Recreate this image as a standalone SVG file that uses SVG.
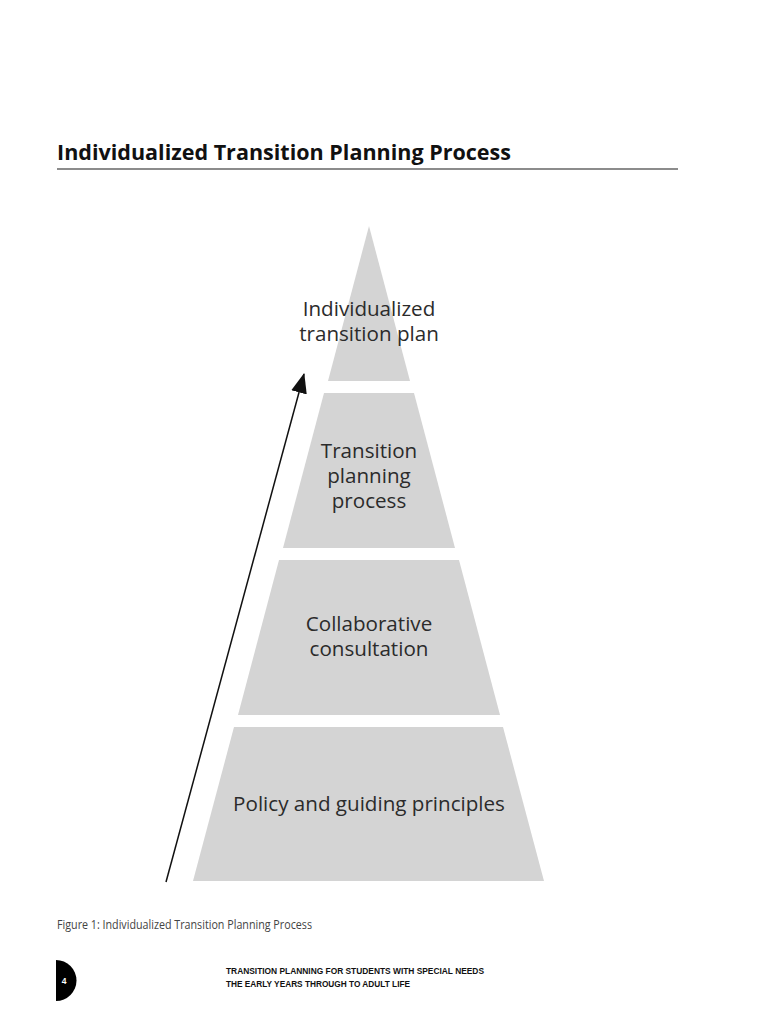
<svg xmlns="http://www.w3.org/2000/svg" width="768" height="1024" viewBox="0 0 768 1024">
<defs>
<style>
.band{fill:#d4d4d4;stroke:none}
.lbl{font-family:"Open Sans","Noto Sans",sans-serif;font-size:20.6px;fill:#2b2b2b;text-anchor:middle}
.title{font-family:"Open Sans","Noto Sans",sans-serif;font-size:20.5px;font-weight:bold;fill:#111}
.cap{font-family:"Open Sans","Noto Sans",sans-serif;font-size:12.5px;fill:#444}
.foot{font-family:"Liberation Sans",Arial,sans-serif;font-size:8.8px;font-weight:bold;fill:#111}
</style>
<marker id="ah" viewBox="0 0 20 16" refX="19" refY="8" markerWidth="20" markerHeight="16" markerUnits="userSpaceOnUse" orient="auto">
<path d="M0,0 L20,8 L0,16 Z" fill="#111"/>
</marker>
</defs>
<rect width="768" height="1024" fill="#fff"/>
<text class="title" x="57" y="160" textLength="454" lengthAdjust="spacingAndGlyphs">Individualized Transition Planning Process</text>
<line x1="57" y1="169" x2="678" y2="169" stroke="#666" stroke-width="1.5"/>

<g id="node-plan">
<polygon class="band" points="369,226 410,381 328,381"/>
<text class="lbl" x="369" y="316">Individualized</text>
<text class="lbl" x="369" y="341">transition plan</text>
</g>
<g id="node-process">
<polygon class="band" points="324,393 414,393 455,548 283,548"/>
<text class="lbl" x="369" y="458">Transition</text>
<text class="lbl" x="369" y="483">planning</text>
<text class="lbl" x="369" y="508">process</text>
</g>
<g id="node-consult">
<polygon class="band" points="279,560 459,560 500,715 238,715"/>
<text class="lbl" x="369" y="631">Collaborative</text>
<text class="lbl" x="369" y="656">consultation</text>
</g>
<g id="node-policy">
<polygon class="band" points="234,727 503,727 544,881 193,881"/>
<text class="lbl" x="369" y="811">Policy and guiding principles</text>
</g>

<g id="connectors">
<line x1="166" y1="882" x2="304" y2="374" stroke="#111" stroke-width="1.5" marker-end="url(#ah)"/>
</g>

<text class="cap" x="57" y="929" textLength="255" lengthAdjust="spacingAndGlyphs">Figure 1: Individualized Transition Planning Process</text>

<path d="M56,960 A20.5,20.5 0 0 1 56,1001 Z" fill="#000"/>
<text x="64" y="984" font-family="Liberation Sans,Arial,sans-serif" font-size="8.5px" font-weight="bold" fill="#fff" text-anchor="middle">4</text>
<text class="foot" x="226" y="974" textLength="258" lengthAdjust="spacingAndGlyphs">TRANSITION PLANNING FOR STUDENTS WITH SPECIAL NEEDS</text>
<text class="foot" x="226" y="987" textLength="184" lengthAdjust="spacingAndGlyphs">THE EARLY YEARS THROUGH TO ADULT LIFE</text>
</svg>
